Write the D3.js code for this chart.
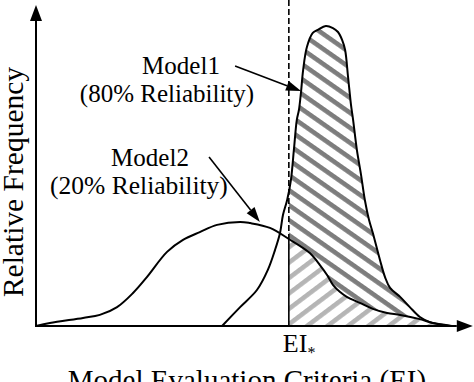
<!DOCTYPE html>
<html>
<head>
<meta charset="utf-8">
<script src="https://cdn.jsdelivr.net/npm/d3@7"></script>
<style>
  html, body { margin: 0; padding: 0; background: #fff; }
  svg { display: block; }
</style>
</head>
<body>
<svg id="chart" width="474" height="382" font-family="'Liberation Serif', 'Times New Roman', Times, 'DejaVu Serif', serif"></svg>
<script>
// ---- data (x: evaluation criterion, y: relative frequency, both in arbitrary units) ----
const model1X = [44.3, 48.6, 52.6, 55.2, 56.9, 58.1, 58.8, 59.8, 60.7, 61.4, 62.1, 62.6, 63.1, 63.6, 64.5, 65.9, 67.1, 69.0, 70.7, 71.9, 72.9, 73.6, 74.3, 75.0, 75.5, 76.4, 77.4, 78.3, 79.3, 80.2, 81.9, 83.1, 84.3, 86.7, 89.0, 91.4, 93.8, 98.6];
const model1Y = [0, 6.3, 12.0, 18.7, 25.3, 31.0, 37.0, 42.0, 48.7, 58.7, 68.7, 72.0, 78.0, 85.3, 93.0, 97.7, 98.7, 100.0, 99.3, 98.0, 95.3, 92.0, 83.0, 73.7, 68.7, 58.7, 50.3, 42.0, 35.3, 31.0, 22.0, 16.3, 12.7, 9.7, 6.3, 3.0, 1.3, 0];

const model2X = [0, 3.3, 11.2, 15.2, 19.3, 23.1, 26.4, 31.2, 35.0, 39.0, 43.1, 48.6, 51.0, 55.7, 60.2, 65.2, 67.6, 69.3, 70.7, 72.4, 74.0, 77.1, 80.2, 83.6, 86.7, 91.4, 94.5, 99.0];
const model2Y = [0, 1.0, 2.7, 3.7, 6.3, 11.0, 16.3, 24.7, 28.7, 31.3, 33.7, 34.7, 34.3, 32.7, 29.0, 24.3, 20.3, 17.0, 13.7, 11.3, 9.7, 7.7, 5.7, 4.3, 3.7, 2.3, 1.0, 0];

const threshold = 60.2;   // EI*
const seriesNames = ["Model1", "Model2"];
const reliabilityLabels = ["(80% Reliability)", "(20% Reliability)"];
const xAxisTitle = "Model Evaluation Criteria (EI)";
const yAxisTitle = "Relative Frequency";
const thresholdLabel = "EI";
const thresholdSub = "*";
// annotation arrows in data units: [fromX, fromY, toX, toY]
const arrow1 = [47.4, 86.7, 63.1, 78.3];
const arrow2 = [41.2, 56.3, 53.3, 34.7];

// ---- layout ----
const FONT = "'Liberation Serif', 'Times New Roman', Times, 'DejaVu Serif', serif";
const svg = d3.select("#chart");
const x = d3.scaleLinear().domain([0, 100]).range([36, 456]);
const y = d3.scaleLinear().domain([0, 100]).range([326, 26]);

const m1 = model1X.map((v, i) => [v, model1Y[i]]);
const m2 = model2X.map((v, i) => [v, model2Y[i]]);

const curve = d3.curveCatmullRom.alpha(0.5);
const line = d3.line().x(d => x(d[0])).y(d => y(d[1])).curve(curve);
const area = d3.area().x(d => x(d[0])).y0(y(0)).y1(d => y(d[1])).curve(curve);

const defs = svg.append("defs");
const pDark = defs.append("pattern").attr("id", "hatchDark")
  .attr("patternUnits", "userSpaceOnUse").attr("width", 10).attr("height", 12.3)
  .attr("patternTransform", "rotate(35)");
pDark.append("rect").attr("width", 10).attr("height", 4.6).attr("fill", "#7d7d7d");

const pLight = defs.append("pattern").attr("id", "hatchLight")
  .attr("patternUnits", "userSpaceOnUse").attr("width", 10).attr("height", 12.3)
  .attr("patternTransform", "rotate(-37)");
pLight.append("rect").attr("width", 10).attr("height", 4.6).attr("fill", "#b5b5b5");

defs.append("clipPath").attr("id", "rightOfEI")
  .append("rect")
  .attr("x", x(threshold)).attr("y", 0)
  .attr("width", 474 - x(threshold)).attr("height", y(0) - 0);

// hatched regions
const g = svg.append("g").attr("clip-path", "url(#rightOfEI)");
g.append("path").datum(m1).attr("d", area).attr("fill", "#fff");
g.append("path").datum(m1).attr("d", area).attr("fill", "url(#hatchDark)");
g.append("path").datum(m2).attr("d", area).attr("fill", "#fff");
g.append("path").datum(m2).attr("d", area).attr("fill", "url(#hatchLight)");

// model2 value at threshold (linear interpolation of data)
const i2 = d3.bisectLeft(model2X, threshold);
const t2 = (threshold - model2X[i2 - 1]) / (model2X[i2] - model2X[i2 - 1]);
const m2AtT = model2Y[i2 - 1] + t2 * (model2Y[i2] - model2Y[i2 - 1]);

// threshold lines
svg.append("line")
  .attr("x1", x(threshold)).attr("x2", x(threshold))
  .attr("y1", 0).attr("y2", y(m2AtT))
  .attr("stroke", "#000").attr("stroke-width", 1.6).attr("stroke-dasharray", "6,3");
svg.append("line")
  .attr("x1", x(threshold)).attr("x2", x(threshold))
  .attr("y1", y(m2AtT)).attr("y2", y(0))
  .attr("stroke", "#000").attr("stroke-width", 1.6);

// curves
svg.append("path").datum(m2).attr("d", line)
  .attr("fill", "none").attr("stroke", "#000").attr("stroke-width", 2);
svg.append("path").datum(m1).attr("d", line)
  .attr("fill", "none").attr("stroke", "#000").attr("stroke-width", 2);

// axes with arrowheads
function head(x1, y1, x2, y2, len, hw) {
  const dx = x2 - x1, dy = y2 - y1, L = Math.hypot(dx, dy);
  const ux = dx / L, uy = dy / L;
  const bx = x2 - ux * len, by = y2 - uy * len;
  return { base: [bx, by], pts: [[x2, y2], [bx - uy * hw, by + ux * hw], [bx + uy * hw, by - ux * hw]] };
}
function drawArrow(x1, y1, x2, y2, len, hw, sw) {
  const h = head(x1, y1, x2, y2, len, hw);
  svg.append("line").attr("x1", x1).attr("y1", y1).attr("x2", h.base[0]).attr("y2", h.base[1])
    .attr("stroke", "#000").attr("stroke-width", sw);
  svg.append("polygon").attr("points", h.pts.map(p => p.join(",")).join(" ")).attr("fill", "#000");
}
drawArrow(x(0) - 1, y(0), x(104), y(0), 16, 6, 2);
drawArrow(x(0), y(0) + 1, x(0), y(107), 16, 6, 2);

// annotation arrows
drawArrow(x(arrow1[0]), y(arrow1[1]), x(arrow1[2]), y(arrow1[3]), 15, 5, 1.6);
drawArrow(x(arrow2[0]), y(arrow2[1]), x(arrow2[2]), y(arrow2[3]), 15, 5, 1.6);

// texts
function txt(xp, yp, s, size, anchor) {
  return svg.append("text").attr("x", xp).attr("y", yp)
    .attr("text-anchor", anchor || "middle")
    .attr("font-family", FONT).attr("font-size", size).attr("fill", "#000").text(s);
}
txt(181, 74, seriesNames[0], 25);
txt(167, 102, reliabilityLabels[0], 25);
txt(150, 166, seriesNames[1], 25);
txt(139, 194, reliabilityLabels[1], 25.5);

const eiT = svg.append("text").attr("x", x(threshold) - 6).attr("y", 352)
  .attr("font-family", FONT).attr("font-size", 26);
eiT.append("tspan").text(thresholdLabel);
eiT.append("tspan").attr("font-size", 16).attr("dy", 6).text(thresholdSub);

txt(247, 390, xAxisTitle, 29);
svg.append("text").attr("transform", "translate(23,182) rotate(-90)")
  .attr("text-anchor", "middle").attr("font-family", FONT)
  .attr("font-size", 29.5).text(yAxisTitle);
</script>
</body>
</html>
